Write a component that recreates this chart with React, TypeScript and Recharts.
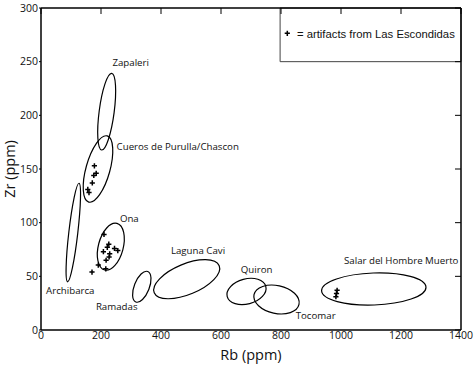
import React from 'react';
import { ReferenceArea, Scatter, ScatterChart, XAxis, YAxis } from 'recharts';

const FONT = '"Open Sans", "Noto Sans", sans-serif';
const LEGEND_FONT = '"Liberation Sans", Arial, sans-serif';

const xTicks = [0, 200, 400, 600, 800, 1000, 1200, 1400];
const yTicks = [0, 50, 100, 150, 200, 250, 300];

// each source ellipse: centre, end of major semi-axis, end of minor semi-axis
const zapaleriEllipse = [{ x: 218.9, y: 203.4 }, { x: 235.7, y: 239.1 }, { x: 243.7, y: 202.5 }];
const cuerosEllipse = [{ x: 190, y: 150 }, { x: 220.9, y: 180.8 }, { x: 228.3, y: 146.9 }];
const archibarcaEllipse = [{ x: 107.7, y: 90.8 }, { x: 126.7, y: 136.7 }, { x: 122.6, y: 90.4 }];
const onaEllipse = [{ x: 232.7, y: 77.6 }, { x: 253.3, y: 99.3 }, { x: 272.7, y: 74.6 }];
const ramadasEllipse = [{ x: 336, y: 40.3 }, { x: 356, y: 54.5 }, { x: 359.3, y: 37.7 }];
const lagunaCaviEllipse = [{ x: 485.7, y: 47.3 }, { x: 594, y: 59.9 }, { x: 505.3, y: 34.2 }];
const quironEllipse = [{ x: 685, y: 35.9 }, { x: 749.3, y: 40.7 }, { x: 695.7, y: 24.6 }];
const tocomarEllipse = [{ x: 785, y: 28.4 }, { x: 860, y: 23.9 }, { x: 775.3, y: 15.7 }];
const salarEllipse = [{ x: 1109.3, y: 38.2 }, { x: 1283.3, y: 39.9 }, { x: 1111.3, y: 23.3 }];

const sourceEllipses = [
  zapaleriEllipse,
  cuerosEllipse,
  archibarcaEllipse,
  onaEllipse,
  ramadasEllipse,
  lagunaCaviEllipse,
  quironEllipse,
  tocomarEllipse,
  salarEllipse,
];

const sourceLabels = [
  { name: 'Zapaleri', x: 238, y: 246 },
  { name: 'Cueros de Purulla/Chascon', x: 252, y: 168 },
  { name: 'Ona', x: 263, y: 101 },
  { name: 'Archibarca', x: 17, y: 33.5 },
  { name: 'Ramadas', x: 183, y: 19 },
  { name: 'Laguna Cavi', x: 433, y: 71 },
  { name: 'Quiron', x: 666, y: 53 },
  { name: 'Tocomar', x: 849, y: 10 },
  { name: 'Salar del Hombre Muerto', x: 1010, y: 61.5 },
];

const cuerosArtifacts = [
  { x: 178, y: 153 }, { x: 184, y: 146 }, { x: 176, y: 144 },
  { x: 171, y: 137 }, { x: 156, y: 131 }, { x: 160, y: 128 },
];
const onaArtifacts = [
  { x: 210, y: 89 }, { x: 226, y: 80 }, { x: 221, y: 77 }, { x: 245, y: 76 },
  { x: 256, y: 74 }, { x: 208, y: 73 }, { x: 229, y: 71 }, { x: 227, y: 68 },
  { x: 217, y: 65 }, { x: 191, y: 60.5 }, { x: 216, y: 57 }, { x: 170, y: 54 },
];
const salarArtifacts = [{ x: 987, y: 37 }, { x: 985, y: 34 }, { x: 983, y: 31 }];
const artifacts = [...cuerosArtifacts, ...onaArtifacts, ...salarArtifacts];

const legendKey = [{ x: 821, y: 276.4 }];
const legendText = [{ name: '= artifacts from Las Escondidas', x: 853, y: 272.5 }];

const Cross = (p: any) => {
  const { cx, cy } = p;
  const h = 2.6;
  return (
    <path
      d={`M${cx - h},${cy}H${cx + h}M${cx},${cy - h}V${cy + h}`}
      stroke="#000"
      strokeWidth={1.5}
      fill="none"
    />
  );
};

const Nothing = () => <g />;

const EllipseOutline = (p: any) => {
  const pts = p.points;
  if (!pts || pts.length < 3) return <g />;
  const [c, a, b] = pts;
  const ax = a.x - c.x;
  const ay = a.y - c.y;
  const rx = Math.hypot(ax, ay);
  const ry = Math.hypot(b.x - c.x, b.y - c.y);
  const rot = (Math.atan2(ay, ax) * 180) / Math.PI;
  const d =
    `M${c.x + ax},${c.y + ay}` +
    `A${rx},${ry} ${rot} 0 1 ${c.x - ax},${c.y - ay}` +
    `A${rx},${ry} ${rot} 0 1 ${c.x + ax},${c.y + ay}Z`;
  return <path d={d} fill="none" stroke="#000" strokeWidth={1.2} />;
};

const SourceLabel = (p: any) => (
  <text x={p.cx} y={p.cy} fontFamily={FONT} fontSize={9.7} fill="#111">
    {p.payload.name}
  </text>
);

const LegendLabel = (p: any) => (
  <text x={p.cx} y={p.cy} fontFamily={LEGEND_FONT} fontSize={11.3} fill="#111">
    {p.payload.name}
  </text>
);

export default function App() {
  const tickStyle = { fontFamily: FONT, fontSize: 10.5, fill: '#111' };
  const titleStyle = { fontFamily: FONT, fontSize: 14.5, fill: '#111' };
  return (
    <div style={{ position: 'absolute', left: 0, top: 0, background: '#fff' }}>
      <ScatterChart width={474} height={365} margin={{ top: 8, right: 13, bottom: 0, left: 0 }}>
        <XAxis
          type="number"
          dataKey="x"
          domain={[0, 1400]}
          ticks={xTicks}
          height={35}
          tickLine={false}
          tickSize={0}
          tickMargin={2}
          tick={tickStyle}
          axisLine={{ stroke: '#000', strokeWidth: 1.5 }}
          label={{ value: 'Rb (ppm)', position: 'insideBottom', offset: 5, style: { ...titleStyle, textAnchor: 'middle' } }}
        />
        <YAxis
          type="number"
          dataKey="y"
          domain={[0, 300]}
          ticks={yTicks}
          width={41}
          tickSize={2}
          tickMargin={1}
          tick={tickStyle}
          tickLine={{ stroke: '#000' }}
          axisLine={{ stroke: '#000', strokeWidth: 1.5 }}
          label={{ value: 'Zr (ppm)', angle: -90, position: 'insideLeft', offset: 10, style: { ...titleStyle, textAnchor: 'middle' } }}
        />
        <XAxis
          xAxisId="top"
          orientation="top"
          mirror
          type="number"
          dataKey="x"
          domain={[0, 1400]}
          allowDataOverflow
          ticks={xTicks}
          height={8}
          tick={Nothing}
          tickSize={6}
          tickLine={{ stroke: '#000', strokeWidth: 1 }}
          axisLine={{ stroke: '#000', strokeWidth: 1.5 }}
        />
        <YAxis
          yAxisId="right"
          orientation="right"
          mirror
          type="number"
          dataKey="y"
          domain={[0, 300]}
          allowDataOverflow
          ticks={yTicks}
          width={8}
          tick={Nothing}
          tickSize={6}
          tickLine={{ stroke: '#000', strokeWidth: 1 }}
          axisLine={{ stroke: '#000', strokeWidth: 1.5 }}
        />
        <ReferenceArea x1={797} x2={1400} y1={250} y2={300} fill="none" stroke="#444" strokeWidth={1} ifOverflow="visible" />
        {sourceEllipses.map((pts, i) => (
          <Scatter
            key={i}
            data={pts}
            shape={Nothing}
            line={EllipseOutline}
            lineType="joint"
            isAnimationActive={false}
          />
        ))}
        <Scatter data={artifacts} shape={Cross} isAnimationActive={false} />
        <Scatter data={sourceLabels} shape={SourceLabel} isAnimationActive={false} />
        <Scatter xAxisId="top" yAxisId="right" data={legendKey} shape={Cross} isAnimationActive={false} />
        <Scatter xAxisId="top" yAxisId="right" data={legendText} shape={LegendLabel} isAnimationActive={false} />
      </ScatterChart>
    </div>
  );
}
